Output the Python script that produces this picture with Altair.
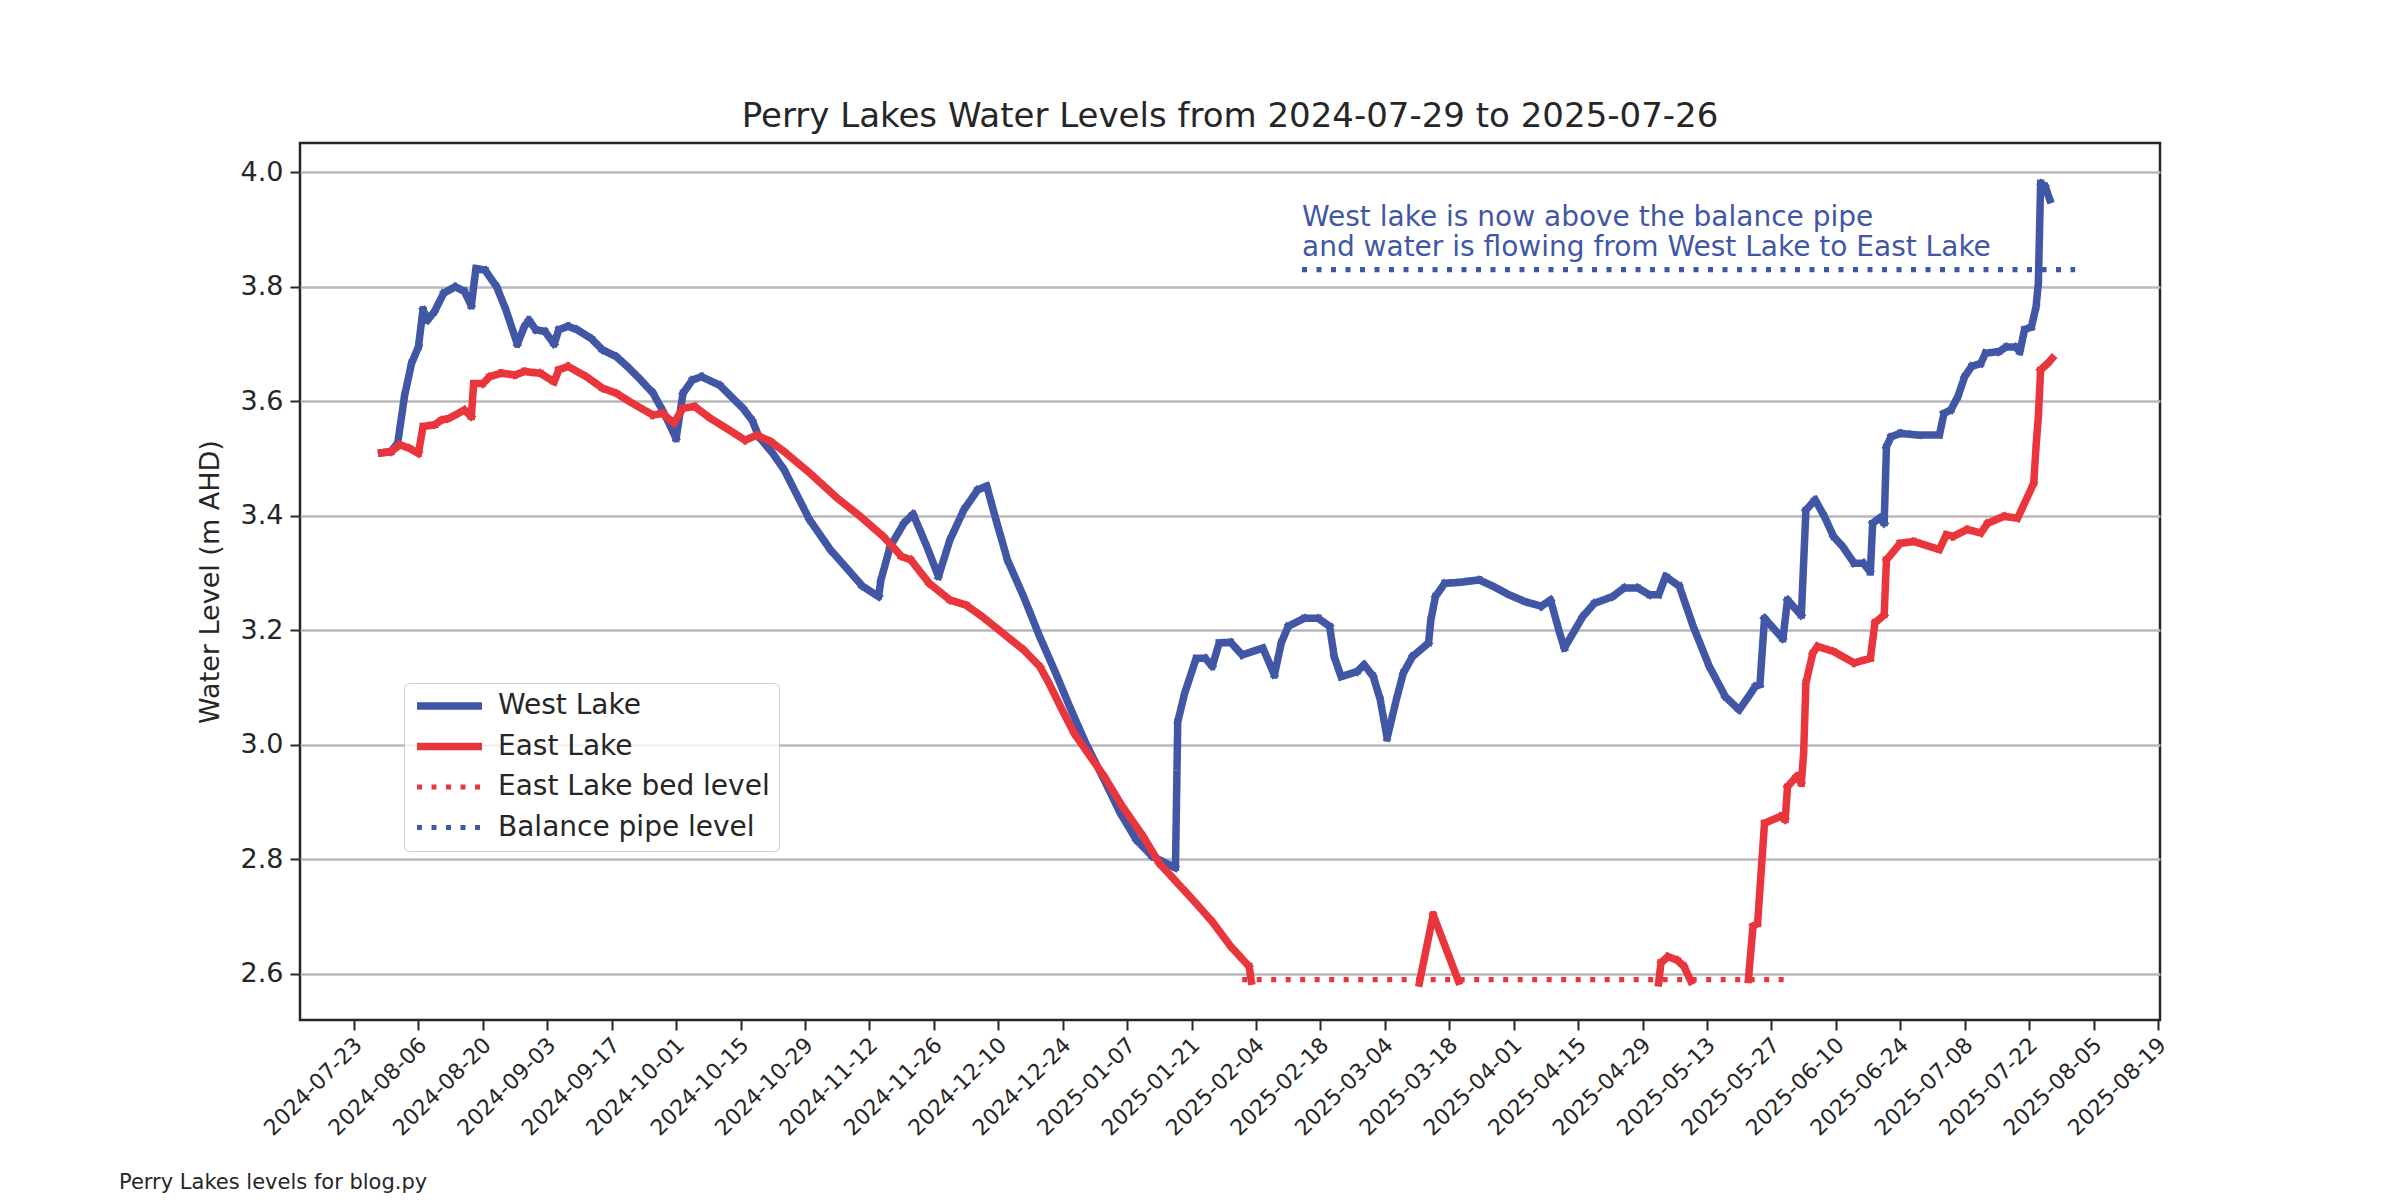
import altair as alt
import pandas as pd

# ---------------- data ----------------
west_dates = [
    "2024-07-29", "2024-07-31", "2024-08-01T12:00", "2024-08-03", "2024-08-04T12:00", "2024-08-06", "2024-08-07", "2024-08-08",
    "2024-08-09T12:00", "2024-08-11T12:00", "2024-08-14", "2024-08-16", "2024-08-17T12:00", "2024-08-18T12:00", "2024-08-20T12:00", "2024-08-23",
    "2024-08-25", "2024-08-27T12:00", "2024-08-29", "2024-08-30", "2024-08-31T12:00", "2024-09-02T12:00", "2024-09-04T12:00", "2024-09-05T12:00",
    "2024-09-07T12:00", "2024-09-09T12:00", "2024-09-12T12:00", "2024-09-15", "2024-09-18", "2024-09-20T12:00", "2024-09-23", "2024-09-26",
    "2024-09-28", "2024-09-29T12:00", "2024-10-01", "2024-10-02T12:00", "2024-10-04T12:00", "2024-10-06T12:00", "2024-10-10T12:00", "2024-10-13",
    "2024-10-15T12:00", "2024-10-17T12:00", "2024-10-19", "2024-10-22", "2024-10-24T12:00", "2024-10-30", "2024-11-03T12:00", "2024-11-08",
    "2024-11-10T12:00", "2024-11-14", "2024-11-14T12:00", "2024-11-16T12:00", "2024-11-19T12:00", "2024-11-21T12:00", "2024-11-24T12:00", "2024-11-27",
    "2024-11-29T12:00", "2024-12-02T12:00", "2024-12-05T12:00", "2024-12-07T12:00", "2024-12-09T12:00", "2024-12-12", "2024-12-15T12:00", "2024-12-19",
    "2024-12-22T12:00", "2024-12-25T12:00", "2024-12-29", "2025-01-02", "2025-01-05T12:00", "2025-01-09", "2025-01-12T12:00", "2025-01-15T12:00",
    "2025-01-17T12:00", "2025-01-18", "2025-01-19T12:00", "2025-01-22", "2025-01-24", "2025-01-25T12:00", "2025-01-27", "2025-01-29T12:00",
    "2025-02-01", "2025-02-05T12:00", "2025-02-08", "2025-02-09T12:00", "2025-02-11", "2025-02-14T12:00", "2025-02-17T12:00", "2025-02-20",
    "2025-02-21", "2025-02-22T12:00", "2025-02-26", "2025-02-27T12:00", "2025-03-01T12:00", "2025-03-03", "2025-03-04T12:00", "2025-03-06T12:00",
    "2025-03-08", "2025-03-10", "2025-03-13T12:00", "2025-03-14", "2025-03-15", "2025-03-17", "2025-03-20T12:00", "2025-03-24T12:00",
    "2025-03-27T12:00", "2025-03-31", "2025-04-03T12:00", "2025-04-07", "2025-04-09", "2025-04-11", "2025-04-12", "2025-04-16",
    "2025-04-18T12:00", "2025-04-22T12:00", "2025-04-25", "2025-04-28", "2025-04-30T12:00", "2025-05-02T12:00", "2025-05-04", "2025-05-07",
    "2025-05-10", "2025-05-13T12:00", "2025-05-17", "2025-05-20", "2025-05-22", "2025-05-23T12:00", "2025-05-24T12:00", "2025-05-25T12:00",
    "2025-05-29T12:00", "2025-05-30T12:00", "2025-06-02T12:00", "2025-06-03T12:00", "2025-06-05T12:00", "2025-06-07T12:00", "2025-06-09T12:00", "2025-06-11T12:00",
    "2025-06-14", "2025-06-16", "2025-06-17T12:00", "2025-06-18", "2025-06-19T12:00", "2025-06-20T12:00", "2025-06-21", "2025-06-22",
    "2025-06-24", "2025-06-28", "2025-07-02T12:00", "2025-07-03T12:00", "2025-07-05", "2025-07-06T12:00", "2025-07-08", "2025-07-09T12:00",
    "2025-07-11T12:00", "2025-07-12T12:00", "2025-07-15T12:00", "2025-07-17", "2025-07-19", "2025-07-20", "2025-07-21", "2025-07-22T12:00",
    "2025-07-23T12:00", "2025-07-24", "2025-07-24T12:00", "2025-07-25T12:00", "2025-07-26T12:00",
]
west_levels = [
    3.510, 3.512, 3.527, 3.610, 3.666, 3.695, 3.760, 3.742,
    3.757, 3.789, 3.800, 3.792, 3.767, 3.832, 3.829, 3.800,
    3.760, 3.700, 3.730, 3.742, 3.725, 3.722, 3.700, 3.725,
    3.731, 3.725, 3.710, 3.690, 3.678, 3.660, 3.640, 3.614,
    3.585, 3.561, 3.535, 3.614, 3.637, 3.643, 3.628, 3.608,
    3.588, 3.567, 3.538, 3.509, 3.480, 3.393, 3.341, 3.300,
    3.277, 3.259, 3.288, 3.346, 3.387, 3.403, 3.346, 3.294,
    3.358, 3.410, 3.445, 3.452, 3.393, 3.323, 3.259, 3.189,
    3.125, 3.067, 3.003, 2.939, 2.881, 2.834, 2.805, 2.793,
    2.785, 3.040, 3.090, 3.151, 3.151, 3.137, 3.178, 3.179,
    3.157, 3.169, 3.122, 3.178, 3.207, 3.221, 3.221, 3.207,
    3.154, 3.119, 3.128, 3.140, 3.119, 3.079, 3.012, 3.079,
    3.125, 3.154, 3.178, 3.218, 3.259, 3.282, 3.284, 3.288,
    3.277, 3.262, 3.250, 3.242, 3.253, 3.195, 3.169, 3.224,
    3.247, 3.259, 3.274, 3.274, 3.262, 3.262, 3.294, 3.277,
    3.207, 3.137, 3.084, 3.061, 3.084, 3.102, 3.105, 3.221,
    3.185, 3.253, 3.226, 3.410, 3.428, 3.399, 3.364, 3.346,
    3.317, 3.317, 3.302, 3.387, 3.396, 3.387, 3.521, 3.538,
    3.544, 3.541, 3.541, 3.579, 3.585, 3.608, 3.643, 3.661,
    3.666, 3.684, 3.687, 3.695, 3.695, 3.687, 3.725, 3.730,
    3.765, 3.806, 3.981, 3.975, 3.952,
]

# East Lake: the line breaks while the lake bed is dry
east_fall_dates = [
    "2024-07-29", "2024-07-31", "2024-08-02", "2024-08-04", "2024-08-06", "2024-08-07", "2024-08-09T12:00", "2024-08-11",
    "2024-08-12T12:00", "2024-08-14", "2024-08-16", "2024-08-17T12:00", "2024-08-18", "2024-08-20", "2024-08-21T12:00", "2024-08-24",
    "2024-08-27", "2024-08-29", "2024-09-01T12:00", "2024-09-04T12:00", "2024-09-05T12:00", "2024-09-07T12:00", "2024-09-11T12:00", "2024-09-15",
    "2024-09-18", "2024-09-21", "2024-09-24", "2024-09-26", "2024-09-28", "2024-09-30T12:00", "2024-10-02T12:00", "2024-10-05",
    "2024-10-08T12:00", "2024-10-12T12:00", "2024-10-16", "2024-10-18T12:00", "2024-10-21T12:00", "2024-10-24T12:00", "2024-10-30", "2024-11-05",
    "2024-11-10", "2024-11-15", "2024-11-19", "2024-11-21", "2024-11-25", "2024-11-29T12:00", "2024-12-03", "2024-12-06T12:00",
    "2024-12-11", "2024-12-15T12:00", "2024-12-19", "2024-12-21", "2024-12-23T12:00", "2024-12-26T12:00", "2024-12-29", "2025-01-02",
    "2025-01-06", "2025-01-10T12:00", "2025-01-14", "2025-01-18", "2025-01-22", "2025-01-25T12:00", "2025-01-29T12:00", "2025-02-02T12:00",
    "2025-02-03",
]
east_fall_levels = [
    3.510, 3.512, 3.524, 3.518, 3.509, 3.556, 3.559, 3.567,
    3.570, 3.576, 3.585, 3.573, 3.631, 3.631, 3.643, 3.649,
    3.646, 3.652, 3.649, 3.634, 3.655, 3.661, 3.643, 3.623,
    3.614, 3.599, 3.585, 3.576, 3.579, 3.562, 3.588, 3.591,
    3.570, 3.550, 3.532, 3.541, 3.530, 3.512, 3.475, 3.431,
    3.399, 3.364, 3.329, 3.323, 3.282, 3.253, 3.244, 3.224,
    3.195, 3.166, 3.137, 3.108, 3.067, 3.020, 2.991, 2.945,
    2.892, 2.840, 2.793, 2.758, 2.723, 2.691, 2.648, 2.613,
    2.587,
]
east_march_dates = ["2025-03-11T12:00", "2025-03-14T12:00", "2025-03-20"]
east_march_levels = [2.584, 2.703, 2.587]
east_may_dates = ["2025-05-02T12:00", "2025-05-03", "2025-05-04T12:00", "2025-05-06T12:00", "2025-05-08", "2025-05-09T12:00"]
east_may_levels = [2.584, 2.619, 2.630, 2.624, 2.613, 2.587]
east_rise_dates = [
    "2025-05-22", "2025-05-23", "2025-05-24", "2025-05-25T12:00", "2025-05-29", "2025-05-30", "2025-05-30T12:00", "2025-06-01T12:00",
    "2025-06-02T12:00", "2025-06-03", "2025-06-03T12:00", "2025-06-05", "2025-06-06", "2025-06-09T12:00", "2025-06-14", "2025-06-17T12:00",
    "2025-06-18T12:00", "2025-06-20T12:00", "2025-06-21", "2025-06-24", "2025-06-27", "2025-07-02T12:00", "2025-07-04", "2025-07-05T12:00",
    "2025-07-08T12:00", "2025-07-11T12:00", "2025-07-13", "2025-07-16T12:00", "2025-07-19T12:00", "2025-07-21", "2025-07-23", "2025-07-23T12:00",
    "2025-07-24", "2025-07-24T12:00", "2025-07-26", "2025-07-27",
]
east_rise_levels = [
    2.590, 2.683, 2.688, 2.863, 2.875, 2.869, 2.927, 2.945,
    2.933, 2.985, 3.108, 3.160, 3.172, 3.163, 3.143, 3.151,
    3.213, 3.227, 3.323, 3.352, 3.355, 3.341, 3.367, 3.364,
    3.376, 3.370, 3.387, 3.399, 3.396, 3.422, 3.457, 3.521,
    3.573, 3.655, 3.666, 3.675,
]

bed_dates = ["2025-02-01", "2025-05-31"]
bed_levels = [2.59, 2.59]
pipe_dates = ["2025-02-14", "2025-08-01"]
pipe_levels = [3.83, 3.83]

series_names = ["West Lake", "East Lake", "East Lake bed level", "Balance pipe level"]
series_colors = ["#4157a6", "#e8363c", "#e8363c", "#4157a6"]
series_dashes = [[1, 0], [1, 0], [5, 9.5], [5, 9.5]]
series_widths = [7.5, 7.5, 5.2, 5.2]

x_tick_dates = [
    "2024-07-23", "2024-08-06", "2024-08-20", "2024-09-03", "2024-09-17", "2024-10-01", "2024-10-15", "2024-10-29",
    "2024-11-12", "2024-11-26", "2024-12-10", "2024-12-24", "2025-01-07", "2025-01-21", "2025-02-04", "2025-02-18",
    "2025-03-04", "2025-03-18", "2025-04-01", "2025-04-15", "2025-04-29", "2025-05-13", "2025-05-27", "2025-06-10",
    "2025-06-24", "2025-07-08", "2025-07-22", "2025-08-05", "2025-08-19",
]
x_domain_dates = ["2024-07-11T06:30", "2025-08-19T10:30"]
y_ticks = [2.6, 2.8, 3.0, 3.2, 3.4, 3.6, 3.8, 4.0]
y_domain = [2.5193, 4.0512]

title_text = "Perry Lakes Water Levels from 2024-07-29 to 2025-07-26"
y_title = "Water Level (m AHD)"
note_lines = ["West lake is now above the balance pipe", "and water is flowing from West Lake to East Lake"]
footer_text = "Perry Lakes levels for blog.py"

# ---------------- build table ----------------
def to_ms(s):
    return int(pd.Timestamp(s, tz="UTC").value // 10**6)

rows = []
def add(series, seg, dates, levels):
    for d, v in zip(dates, levels):
        rows.append({"t": to_ms(d), "level": v, "series": series, "seg": seg})

add("West Lake", "w", west_dates, west_levels)
add("East Lake", "e1", east_fall_dates, east_fall_levels)
add("East Lake", "e2", east_march_dates, east_march_levels)
add("East Lake", "e3", east_may_dates, east_may_levels)
add("East Lake", "e4", east_rise_dates, east_rise_levels)
add("East Lake bed level", "b", bed_dates, bed_levels)
add("Balance pipe level", "p", pipe_dates, pipe_levels)
df = pd.DataFrame(rows)

INK = "#262626"
FONT = "DejaVu Sans"

x_enc = alt.X(
    "t:T",
    scale=alt.Scale(type="utc", domain=[to_ms(d) for d in x_domain_dates], nice=False),
    axis=alt.Axis(
        values=[to_ms(d) for d in x_tick_dates], format="%Y-%m-%d", labelAngle=315,
        labelAlign="right", labelBaseline="top", labelFontSize=22, labelPadding=4, labelOffset=-3,
        labelColor=INK, tickSize=10, tickWidth=2, tickColor=INK, grid=False, domain=False,
        title=None, labelOverlap=False, labelFlush=False, labelBound=False,
    ),
)
y_enc = alt.Y(
    "level:Q",
    scale=alt.Scale(domain=y_domain, nice=False, zero=False),
    axis=alt.Axis(
        values=y_ticks, format=".1f", labelFontSize=27, labelPadding=7, labelColor=INK,
        tickSize=10, tickWidth=2, tickColor=INK, grid=True, gridColor="#b8b8b8", gridWidth=2.5,
        domain=False, title=y_title, titleFontSize=27, titleFontWeight="normal", titleColor=INK,
        titleX=-90, titleY=438.5, titleAngle=270, titleAlign="center", titleBaseline="middle",
    ),
)

legend = alt.Legend(
    title=None, orient="none", legendX=104, legendY=540, symbolType="stroke", symbolSize=4225,
    labelFontSize=28, labelColor=INK, labelFont=FONT, labelOffset=12, padding=9,
    rowPadding=12.5, clipHeight=28,
    strokeColor="#cccccc", fillColor="rgba(255,255,255,0.8)", cornerRadius=5, labelLimit=0,
)
color_enc = alt.Color("series:N", scale=alt.Scale(domain=series_names, range=series_colors), legend=legend)
dash_enc = alt.StrokeDash("series:N", scale=alt.Scale(domain=series_names, range=series_dashes), legend=legend)
width_enc = alt.StrokeWidth("series:N", scale=alt.Scale(type="ordinal", domain=series_names, range=series_widths), legend=legend)

def layer(name, cap):
    return alt.Chart(df).transform_filter(alt.datum.series == name).mark_line(
        strokeJoin="round", strokeCap=cap
    ).encode(x=x_enc, y=y_enc, color=color_enc, strokeDash=dash_enc, strokeWidth=width_enc, detail="seg:N")

west = layer("West Lake", "square")
east = layer("East Lake", "square")
bed = layer("East Lake bed level", "butt")
pipe = layer("Balance pipe level", "butt")

note_df = pd.DataFrame({"t": [to_ms(pipe_dates[0])], "level": [pipe_levels[0]]})
note1 = alt.Chart(note_df).mark_text(
    align="left", baseline="alphabetic", fontSize=28, font=FONT, color=series_colors[0], dy=-44
).encode(x=alt.X("t:T"), y=alt.Y("level:Q"), text=alt.value(note_lines[0]))
note2 = alt.Chart(note_df).mark_text(
    align="left", baseline="alphabetic", fontSize=28, font=FONT, color=series_colors[0], dy=-14
).encode(x=alt.X("t:T"), y=alt.Y("level:Q"), text=alt.value(note_lines[1]))

footer = alt.Chart(pd.DataFrame({"txt": [footer_text]})).mark_text(
    align="left", baseline="alphabetic", fontSize=21, font=FONT, color=INK
).encode(x=alt.value(-181), y=alt.value(1046), text="txt:N")

chart = alt.layer(west, east, bed, pipe, note1, note2, footer).properties(
    width=1860, height=877,
    title=alt.Title(title_text, fontSize=34, font=FONT, fontWeight="normal", color=INK,
                    anchor="middle", offset=9),
    padding={"left": 300, "top": 143, "right": 240, "bottom": 180},
    autosize=alt.AutoSizeParams(type="none"),
    background="white",
).configure(font=FONT).configure_view(stroke=INK, strokeWidth=2.5)

chart.save("out.html", embed_options={"renderer": "svg", "actions": False})
